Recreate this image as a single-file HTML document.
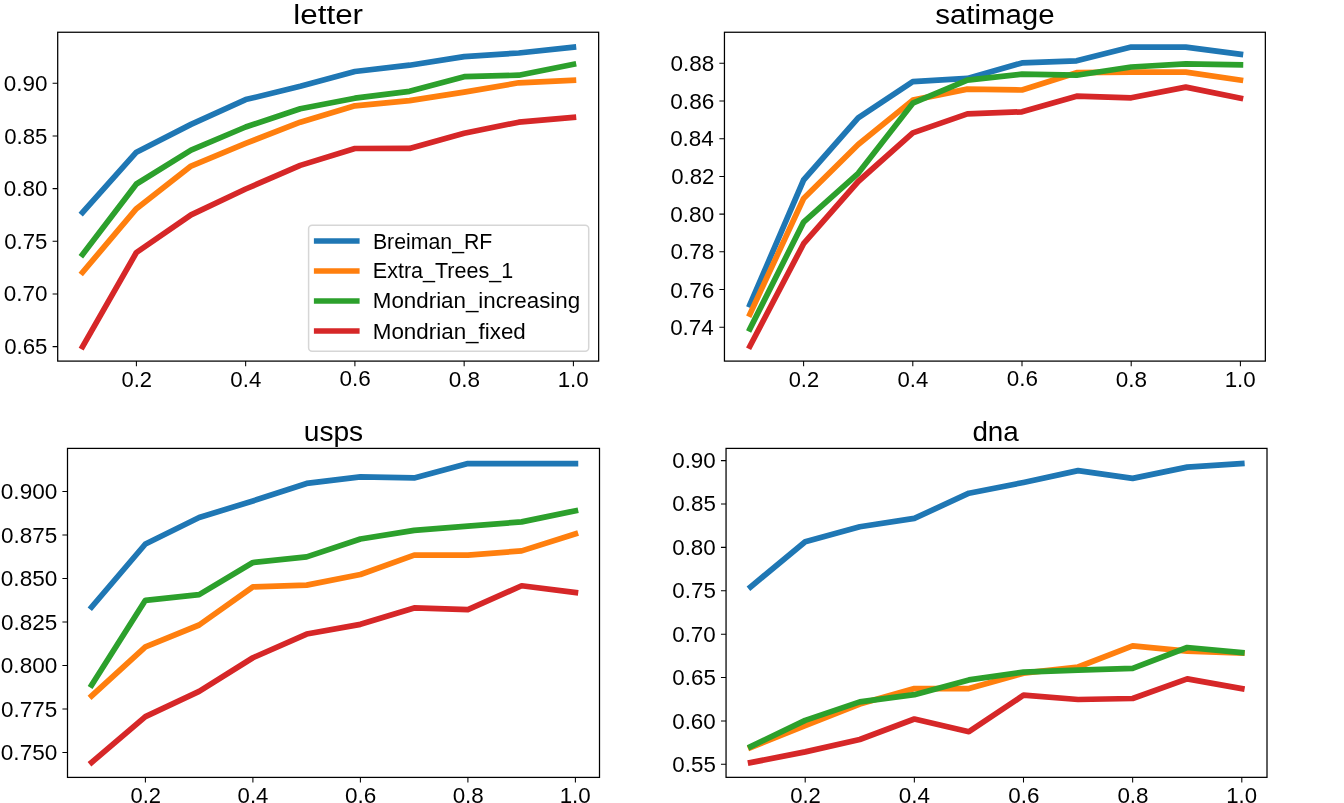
<!DOCTYPE html>
<html><head><meta charset="utf-8"><title>charts</title>
<style>html,body{margin:0;padding:0;background:#fff;width:1344px;height:803px;overflow:hidden}svg{display:block;will-change:transform}</style>
</head><body>
<svg width="1344" height="803" viewBox="0 0 1344 803" font-family='"Liberation Sans", sans-serif' fill="#000"><defs><clipPath id="c0"><rect x="57.70" y="32.25" width="540.95" height="328.85"/></clipPath><clipPath id="c1"><rect x="724.45" y="32.25" width="540.90" height="328.85"/></clipPath><clipPath id="c2"><rect x="67.50" y="448.40" width="532.00" height="329.00"/></clipPath><clipPath id="c3"><rect x="726.05" y="448.40" width="540.95" height="328.95"/></clipPath></defs><rect width="1344" height="803" fill="#fff"/>
<polyline points="82.58,212.50 136.40,152.20 191.03,124.40 245.65,99.60 300.27,86.30 354.90,71.50 409.52,65.20 464.15,56.60 518.77,53.00 573.40,47.20" fill="none" stroke="#1f77b4" stroke-width="5.70" stroke-linejoin="round" stroke-linecap="square" clip-path="url(#c0)"/>
<polyline points="82.58,272.30 136.40,208.70 191.03,166.10 245.65,143.40 300.27,122.20 354.90,105.80 409.52,100.60 464.15,92.10 518.77,82.80 573.40,80.30" fill="none" stroke="#ff7f0e" stroke-width="5.70" stroke-linejoin="round" stroke-linecap="square" clip-path="url(#c0)"/>
<polyline points="82.58,254.50 136.40,184.00 191.03,150.10 245.65,127.00 300.27,108.80 354.90,98.20 409.52,91.30 464.15,76.70 518.77,75.20 573.40,64.30" fill="none" stroke="#2ca02c" stroke-width="5.70" stroke-linejoin="round" stroke-linecap="square" clip-path="url(#c0)"/>
<polyline points="82.58,346.70 136.40,252.50 191.03,214.80 245.65,189.00 300.27,165.40 354.90,148.50 409.52,148.40 464.15,133.20 518.77,122.20 573.40,117.30" fill="none" stroke="#d62728" stroke-width="5.70" stroke-linejoin="round" stroke-linecap="square" clip-path="url(#c0)"/>
<rect x="57.70" y="32.25" width="540.95" height="328.85" fill="none" stroke="#000" stroke-width="1.25" stroke-linejoin="miter"/>
<path d="M136.40 361.10V366.20M245.65 361.10V366.20M354.90 361.10V366.20M464.15 361.10V366.20M573.40 361.10V366.20M57.70 346.60H52.60M57.70 293.94H52.60M57.70 241.28H52.60M57.70 188.62H52.60M57.70 135.96H52.60M57.70 83.30H52.60" stroke="#000" stroke-width="1.05" fill="none"/>
<text id="xt0_0.2" x="0" y="0" transform="translate(136.75 386.56) scale(1.0365 1.0000)" font-size="21.20" text-anchor="middle">0.2</text>
<text id="xt0_0.4" x="0" y="0" transform="translate(245.79 386.69) scale(1.0508 1.0000)" font-size="21.20" text-anchor="middle">0.4</text>
<text id="xt0_0.6" x="0" y="0" transform="translate(355.21 386.46) scale(1.0619 1.0000)" font-size="21.20" text-anchor="middle">0.6</text>
<text id="xt0_0.8" x="0" y="0" transform="translate(464.40 386.63) scale(1.0605 1.0000)" font-size="21.20" text-anchor="middle">0.8</text>
<text id="xt0_1" x="0" y="0" transform="translate(573.18 386.63) scale(1.0550 1.0000)" font-size="21.20" text-anchor="middle">1.0</text>
<text id="yt0_0.65" x="0" y="0" transform="translate(47.44 353.84) scale(1.0477 1.0000)" font-size="21.20" text-anchor="end">0.65</text>
<text id="yt0_0.70" x="0" y="0" transform="translate(47.37 301.37) scale(1.0600 1.0000)" font-size="21.20" text-anchor="end">0.70</text>
<text id="yt0_0.75" x="0" y="0" transform="translate(47.44 248.78) scale(1.0477 1.0000)" font-size="21.20" text-anchor="end">0.75</text>
<text id="yt0_0.80" x="0" y="0" transform="translate(47.37 196.14) scale(1.0600 1.0000)" font-size="21.20" text-anchor="end">0.80</text>
<text id="yt0_0.85" x="0" y="0" transform="translate(47.44 143.70) scale(1.0477 1.0000)" font-size="21.20" text-anchor="end">0.85</text>
<text id="yt0_0.90" x="0" y="0" transform="translate(47.37 90.98) scale(1.0600 1.0000)" font-size="21.20" text-anchor="end">0.90</text>
<text id="title0" x="0" y="0" transform="translate(328.16 24.26) scale(1.1536 1.0000)" font-size="27.20" text-anchor="middle">letter</text>
<polyline points="749.90,304.70 803.60,180.00 858.20,117.80 912.80,81.60 967.40,78.40 1022.00,62.90 1076.60,60.80 1131.20,47.10 1185.80,47.10 1240.40,54.20" fill="none" stroke="#1f77b4" stroke-width="5.70" stroke-linejoin="round" stroke-linecap="square" clip-path="url(#c1)"/>
<polyline points="749.90,314.10 803.60,198.50 858.20,144.50 912.80,100.10 967.40,89.10 1022.00,90.00 1076.60,72.70 1131.20,72.10 1185.80,72.10 1240.40,80.10" fill="none" stroke="#ff7f0e" stroke-width="5.70" stroke-linejoin="round" stroke-linecap="square" clip-path="url(#c1)"/>
<polyline points="749.90,328.90 803.60,222.10 858.20,173.30 912.80,103.20 967.40,80.10 1022.00,74.20 1076.60,75.20 1131.20,67.00 1185.80,63.90 1240.40,64.90" fill="none" stroke="#2ca02c" stroke-width="5.70" stroke-linejoin="round" stroke-linecap="square" clip-path="url(#c1)"/>
<polyline points="749.90,346.20 803.60,243.70 858.20,181.50 912.80,132.90 967.40,113.90 1022.00,111.80 1076.60,96.20 1131.20,97.80 1185.80,87.10 1240.40,98.20" fill="none" stroke="#d62728" stroke-width="5.70" stroke-linejoin="round" stroke-linecap="square" clip-path="url(#c1)"/>
<rect x="724.45" y="32.25" width="540.90" height="328.85" fill="none" stroke="#000" stroke-width="1.25" stroke-linejoin="miter"/>
<path d="M803.60 361.10V366.20M912.80 361.10V366.20M1022.00 361.10V366.20M1131.20 361.10V366.20M1240.40 361.10V366.20M724.45 327.20H719.35M724.45 289.50H719.35M724.45 251.80H719.35M724.45 214.10H719.35M724.45 176.40H719.35M724.45 138.70H719.35M724.45 101.00H719.35M724.45 63.30H719.35" stroke="#000" stroke-width="1.05" fill="none"/>
<text id="xt1_0.2" x="0" y="0" transform="translate(803.88 386.53) scale(1.0329 1.0000)" font-size="21.20" text-anchor="middle">0.2</text>
<text id="xt1_0.4" x="0" y="0" transform="translate(912.87 386.75) scale(1.0464 1.0000)" font-size="21.20" text-anchor="middle">0.4</text>
<text id="xt1_0.6" x="0" y="0" transform="translate(1022.34 386.39) scale(1.0588 1.0000)" font-size="21.20" text-anchor="middle">0.6</text>
<text id="xt1_0.8" x="0" y="0" transform="translate(1131.44 386.62) scale(1.0621 1.0000)" font-size="21.20" text-anchor="middle">0.8</text>
<text id="xt1_1" x="0" y="0" transform="translate(1240.18 386.63) scale(1.0550 1.0000)" font-size="21.20" text-anchor="middle">1.0</text>
<text id="yt1_0.74" x="0" y="0" transform="translate(713.80 335.06) scale(1.0583 1.0000)" font-size="21.20" text-anchor="end">0.74</text>
<text id="yt1_0.76" x="0" y="0" transform="translate(714.31 297.55) scale(1.0678 1.0000)" font-size="21.20" text-anchor="end">0.76</text>
<text id="yt1_0.78" x="0" y="0" transform="translate(714.37 259.22) scale(1.0628 1.0000)" font-size="21.20" text-anchor="end">0.78</text>
<text id="yt1_0.80" x="0" y="0" transform="translate(714.23 221.70) scale(1.0653 1.0000)" font-size="21.20" text-anchor="end">0.80</text>
<text id="yt1_0.82" x="0" y="0" transform="translate(714.41 184.24) scale(1.0484 1.0000)" font-size="21.20" text-anchor="end">0.82</text>
<text id="yt1_0.84" x="0" y="0" transform="translate(713.80 146.02) scale(1.0583 1.0000)" font-size="21.20" text-anchor="end">0.84</text>
<text id="yt1_0.86" x="0" y="0" transform="translate(714.31 108.52) scale(1.0678 1.0000)" font-size="21.20" text-anchor="end">0.86</text>
<text id="yt1_0.88" x="0" y="0" transform="translate(714.37 71.09) scale(1.0628 1.0000)" font-size="21.20" text-anchor="end">0.88</text>
<text id="title1" x="0" y="0" transform="translate(994.87 24.32) scale(1.0828 1.0000)" font-size="27.20" text-anchor="middle">satimage</text>
<polyline points="91.65,607.10 145.40,544.00 199.15,517.50 252.90,500.95 306.65,483.45 360.40,476.85 414.15,477.95 467.90,463.55 521.65,463.55 575.40,463.55" fill="none" stroke="#1f77b4" stroke-width="5.70" stroke-linejoin="round" stroke-linecap="square" clip-path="url(#c2)"/>
<polyline points="91.65,695.90 145.40,646.80 199.15,625.00 252.90,586.85 306.65,585.15 360.40,574.45 414.15,555.15 467.90,555.15 521.65,550.85 575.40,533.85" fill="none" stroke="#ff7f0e" stroke-width="5.70" stroke-linejoin="round" stroke-linecap="square" clip-path="url(#c2)"/>
<polyline points="91.65,685.10 145.40,600.30 199.15,594.60 252.90,562.55 306.65,556.85 360.40,538.95 414.15,530.35 467.90,526.15 521.65,521.85 575.40,510.75" fill="none" stroke="#2ca02c" stroke-width="5.70" stroke-linejoin="round" stroke-linecap="square" clip-path="url(#c2)"/>
<polyline points="91.65,762.40 145.40,716.60 199.15,691.30 252.90,657.75 306.65,634.05 360.40,624.35 414.15,607.95 467.90,609.55 521.65,585.75 575.40,592.45" fill="none" stroke="#d62728" stroke-width="5.70" stroke-linejoin="round" stroke-linecap="square" clip-path="url(#c2)"/>
<rect x="67.50" y="448.40" width="532.00" height="329.00" fill="none" stroke="#000" stroke-width="1.25" stroke-linejoin="miter"/>
<path d="M145.40 777.40V782.50M252.90 777.40V782.50M360.40 777.40V782.50M467.90 777.40V782.50M575.40 777.40V782.50M67.50 752.40H62.40M67.50 708.90H62.40M67.50 665.40H62.40M67.50 621.90H62.40M67.50 578.40H62.40M67.50 534.90H62.40M67.50 491.40H62.40" stroke="#000" stroke-width="1.05" fill="none"/>
<text id="xt2_0.2" x="0" y="0" transform="translate(145.75 803.17) scale(1.0365 1.0000)" font-size="21.20" text-anchor="middle">0.2</text>
<text id="xt2_0.4" x="0" y="0" transform="translate(252.97 803.40) scale(1.0449 1.0000)" font-size="21.20" text-anchor="middle">0.4</text>
<text id="xt2_0.6" x="0" y="0" transform="translate(360.66 803.20) scale(1.0633 1.0000)" font-size="21.20" text-anchor="middle">0.6</text>
<text id="xt2_0.8" x="0" y="0" transform="translate(468.20 803.30) scale(1.0560 1.0000)" font-size="21.20" text-anchor="middle">0.8</text>
<text id="xt2_1" x="0" y="0" transform="translate(575.18 803.31) scale(1.0550 1.0000)" font-size="21.20" text-anchor="middle">1.0</text>
<text id="yt2_0.750" x="0" y="0" transform="translate(57.26 759.64) scale(1.0646 1.0000)" font-size="21.20" text-anchor="end">0.750</text>
<text id="yt2_0.775" x="0" y="0" transform="translate(57.39 716.60) scale(1.0619 1.0000)" font-size="21.20" text-anchor="end">0.775</text>
<text id="yt2_0.800" x="0" y="0" transform="translate(57.26 672.53) scale(1.0646 1.0000)" font-size="21.20" text-anchor="end">0.800</text>
<text id="yt2_0.825" x="0" y="0" transform="translate(57.39 629.59) scale(1.0619 1.0000)" font-size="21.20" text-anchor="end">0.825</text>
<text id="yt2_0.850" x="0" y="0" transform="translate(57.26 585.64) scale(1.0646 1.0000)" font-size="21.20" text-anchor="end">0.850</text>
<text id="yt2_0.875" x="0" y="0" transform="translate(57.39 542.59) scale(1.0619 1.0000)" font-size="21.20" text-anchor="end">0.875</text>
<text id="yt2_0.900" x="0" y="0" transform="translate(57.26 498.51) scale(1.0646 1.0000)" font-size="21.20" text-anchor="end">0.900</text>
<text id="title2" x="0" y="0" transform="translate(333.46 440.50) scale(1.0352 1.0000)" font-size="27.20" text-anchor="middle">usps</text>
<polyline points="750.62,586.90 805.20,541.70 859.78,526.70 914.35,518.40 968.93,493.20 1023.50,482.50 1078.08,470.60 1132.65,478.40 1187.22,467.10 1241.80,463.60" fill="none" stroke="#1f77b4" stroke-width="5.70" stroke-linejoin="round" stroke-linecap="square" clip-path="url(#c3)"/>
<polyline points="750.62,747.60 805.20,725.50 859.78,704.00 914.35,688.60 968.93,688.60 1023.50,673.20 1078.08,667.00 1132.65,645.80 1187.22,651.20 1241.80,653.00" fill="none" stroke="#ff7f0e" stroke-width="5.70" stroke-linejoin="round" stroke-linecap="square" clip-path="url(#c3)"/>
<polyline points="750.62,746.60 805.20,720.40 859.78,701.90 914.35,694.70 968.93,679.90 1023.50,672.10 1078.08,670.10 1132.65,668.40 1187.22,647.50 1241.80,652.60" fill="none" stroke="#2ca02c" stroke-width="5.70" stroke-linejoin="round" stroke-linecap="square" clip-path="url(#c3)"/>
<polyline points="750.62,762.60 805.20,751.90 859.78,739.50 914.35,719.00 968.93,731.70 1023.50,695.20 1078.08,699.50 1132.65,698.50 1187.22,678.90 1241.80,688.60" fill="none" stroke="#d62728" stroke-width="5.70" stroke-linejoin="round" stroke-linecap="square" clip-path="url(#c3)"/>
<rect x="726.05" y="448.40" width="540.95" height="328.95" fill="none" stroke="#000" stroke-width="1.25" stroke-linejoin="miter"/>
<path d="M805.20 777.35V782.45M914.35 777.35V782.45M1023.50 777.35V782.45M1132.65 777.35V782.45M1241.80 777.35V782.45M726.05 764.33H720.95M726.05 720.94H720.95M726.05 677.55H720.95M726.05 634.16H720.95M726.05 590.77H720.95M726.05 547.38H720.95M726.05 503.99H720.95M726.05 460.60H720.95" stroke="#000" stroke-width="1.05" fill="none"/>
<text id="xt3_0.2" x="0" y="0" transform="translate(805.53 803.17) scale(1.0427 1.0000)" font-size="21.20" text-anchor="middle">0.2</text>
<text id="xt3_0.4" x="0" y="0" transform="translate(914.43 803.15) scale(1.0563 1.0000)" font-size="21.20" text-anchor="middle">0.4</text>
<text id="xt3_0.6" x="0" y="0" transform="translate(1023.81 803.04) scale(1.0576 1.0000)" font-size="21.20" text-anchor="middle">0.6</text>
<text id="xt3_0.8" x="0" y="0" transform="translate(1132.95 803.06) scale(1.0560 1.0000)" font-size="21.20" text-anchor="middle">0.8</text>
<text id="xt3_1" x="0" y="0" transform="translate(1241.56 803.30) scale(1.0462 1.0000)" font-size="21.20" text-anchor="middle">1.0</text>
<text id="yt3_0.55" x="0" y="0" transform="translate(715.81 771.64) scale(1.0540 1.0000)" font-size="21.20" text-anchor="end">0.55</text>
<text id="yt3_0.60" x="0" y="0" transform="translate(715.69 728.79) scale(1.0544 1.0000)" font-size="21.20" text-anchor="end">0.60</text>
<text id="yt3_0.65" x="0" y="0" transform="translate(715.81 685.39) scale(1.0540 1.0000)" font-size="21.20" text-anchor="end">0.65</text>
<text id="yt3_0.70" x="0" y="0" transform="translate(715.69 641.83) scale(1.0544 1.0000)" font-size="21.20" text-anchor="end">0.70</text>
<text id="yt3_0.75" x="0" y="0" transform="translate(715.81 598.31) scale(1.0540 1.0000)" font-size="21.20" text-anchor="end">0.75</text>
<text id="yt3_0.80" x="0" y="0" transform="translate(715.69 554.53) scale(1.0544 1.0000)" font-size="21.20" text-anchor="end">0.80</text>
<text id="yt3_0.85" x="0" y="0" transform="translate(715.81 511.13) scale(1.0540 1.0000)" font-size="21.20" text-anchor="end">0.85</text>
<text id="yt3_0.90" x="0" y="0" transform="translate(715.69 468.27) scale(1.0544 1.0000)" font-size="21.20" text-anchor="end">0.90</text>
<text id="title3" x="0" y="0" transform="translate(995.55 440.54) scale(1.0213 1.0000)" font-size="27.20" text-anchor="middle">dna</text>
<rect x="308.6" y="225.3" width="280.1" height="126.0" rx="3.5" ry="3.5" fill="#fff" fill-opacity="0.8" stroke="#d6d6d6" stroke-width="1.5"/>
<path d="M313.9 241.00H359.6" stroke="#1f77b4" stroke-width="5.70" fill="none"/>
<text id="leg0" x="0" y="0" transform="translate(372.91 248.82) scale(1.0045 1.0000)" font-size="21.20" text-anchor="start">Breiman_RF</text>
<path d="M313.9 271.00H359.6" stroke="#ff7f0e" stroke-width="5.70" fill="none"/>
<text id="leg1" x="0" y="0" transform="translate(372.80 278.00) scale(1.0159 1.0000)" font-size="21.20" text-anchor="start">Extra_Trees_1</text>
<path d="M313.9 301.00H359.6" stroke="#2ca02c" stroke-width="5.70" fill="none"/>
<text id="leg2" x="0" y="0" transform="translate(372.82 308.44) scale(1.0544 1.0000)" font-size="21.20" text-anchor="start">Mondrian_increasing</text>
<path d="M313.9 331.00H359.6" stroke="#d62728" stroke-width="5.70" fill="none"/>
<text id="leg3" x="0" y="0" transform="translate(372.77 338.66) scale(1.0561 1.0000)" font-size="21.20" text-anchor="start">Mondrian_fixed</text></svg>
</body></html>
